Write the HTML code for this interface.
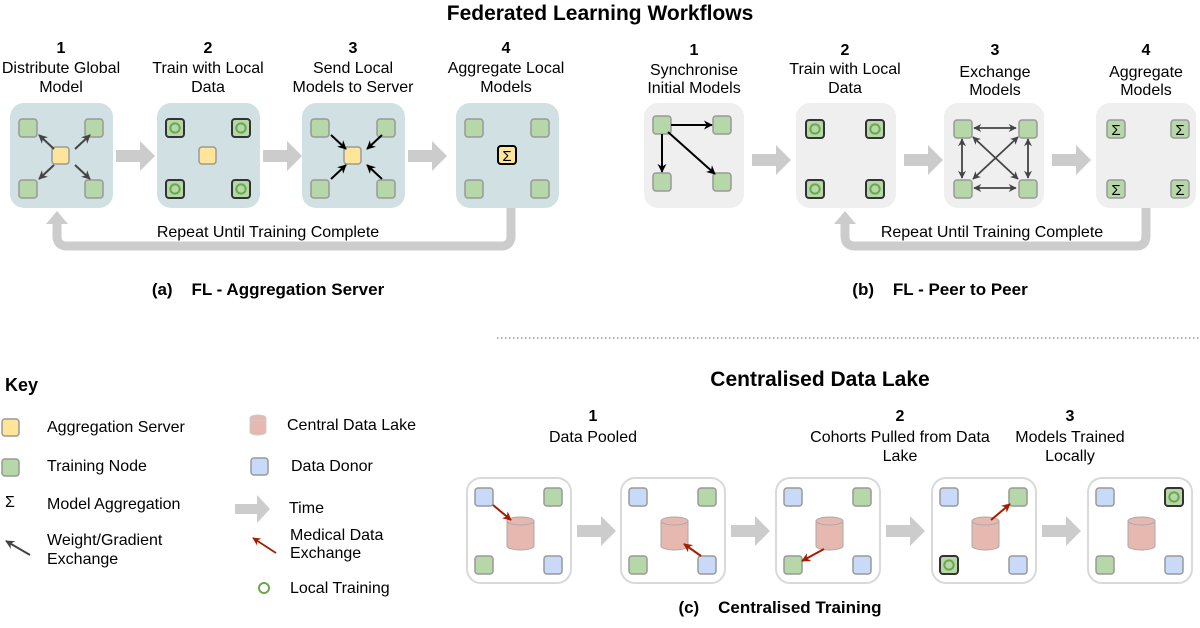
<!DOCTYPE html>
<html><head><meta charset="utf-8"><style>
html,body{margin:0;padding:0;background:#fff;width:1200px;height:628px;overflow:hidden}
svg{display:block;font-family:"Liberation Sans",Arial,sans-serif}
</style></head><body>
<svg id="s" width="1200" height="628" viewBox="0 0 1200 628" xmlns="http://www.w3.org/2000/svg">
<defs>
<marker id="ah" viewBox="0 0 10 10" refX="9" refY="5" markerWidth="4.5" markerHeight="4.5" orient="auto-start-reverse"><path d="M0,0 L10,5 L0,10 L3,5z" fill="#444"/></marker>
<marker id="ak" viewBox="0 0 10 10" refX="9" refY="5" markerWidth="4.5" markerHeight="4.5" orient="auto-start-reverse"><path d="M0,0 L10,5 L0,10 L3,5z" fill="#000"/></marker>
<marker id="ar" viewBox="0 0 10 10" refX="9" refY="5" markerWidth="4.5" markerHeight="4.5" orient="auto"><path d="M0,0 L10,5 L0,10 L3,5z" fill="#a61c00"/></marker>
</defs>
<g id="g"></g>
<g fill="#000" text-anchor="middle" font-size="16">
<text x="600" y="20" font-size="21" font-weight="bold">Federated Learning Workflows</text>
<g font-weight="bold"><text x="61" y="53">1</text><text x="208" y="53">2</text><text x="353" y="53">3</text><text x="506" y="53">4</text>
<text x="694" y="55">1</text><text x="845" y="55">2</text><text x="995" y="55">3</text><text x="1146" y="55">4</text></g>
<text x="61" y="73">Distribute Global</text><text x="61" y="92">Model</text>
<text x="208" y="73">Train with Local</text><text x="208" y="92">Data</text>
<text x="353" y="73">Send Local</text><text x="353" y="92">Models to Server</text>
<text x="506" y="73">Aggregate Local</text><text x="506" y="92">Models</text>
<text x="694" y="75">Synchronise</text><text x="694" y="93">Initial Models</text>
<text x="845" y="74">Train with Local</text><text x="845" y="93">Data</text>
<text x="995" y="77">Exchange</text><text x="995" y="95">Models</text>
<text x="1146" y="77">Aggregate</text><text x="1146" y="95">Models</text>
<text x="268" y="237">Repeat Until Training Complete</text>
<text x="992" y="237">Repeat Until Training Complete</text>
<text x="268" y="295" font-size="17" font-weight="bold">(a)&#160;&#160;&#160;&#160;FL - Aggregation Server</text>
<text x="940" y="295" font-size="17" font-weight="bold">(b)&#160;&#160;&#160;&#160;FL - Peer to Peer</text>
<text x="820" y="386" font-size="21" font-weight="bold">Centralised Data Lake</text>
<g font-weight="bold"><text x="593" y="421">1</text><text x="900" y="421">2</text><text x="1070" y="421">3</text></g>
<text x="593" y="442">Data Pooled</text>
<text x="900" y="442">Cohorts Pulled from Data</text><text x="900" y="461">Lake</text>
<text x="1070" y="442">Models Trained</text><text x="1070" y="461">Locally</text>
<text x="780" y="613" font-size="17" font-weight="bold">(c)&#160;&#160;&#160;&#160;Centralised Training</text>
</g>
<g font-size="16" fill="#000">
<text x="5" y="391" font-size="18" font-weight="bold">Key</text>
<text x="47" y="432">Aggregation Server</text>
<text x="47" y="471">Training Node</text>
<text x="5" y="507">Σ</text>
<text x="47" y="509">Model Aggregation</text>
<text x="47" y="545">Weight/Gradient</text><text x="47" y="564">Exchange</text>
<text x="287" y="430">Central Data Lake</text>
<text x="291" y="471">Data Donor</text>
<text x="289" y="513">Time</text>
<text x="290" y="540">Medical Data</text><text x="290" y="558">Exchange</text>
<text x="290" y="593">Local Training</text>
</g>
<line x1="497" y1="338" x2="1200" y2="338" stroke="#666" stroke-dasharray="1.5,2.5"/>
</svg>
<script>
const g=document.getElementById('g');let h='';
const C={g:'#b6d7a8',y:'#ffe599',b:'#c9daf8'};
function n(x,y,c,ring,s){s=s||18;h+=`<rect x="${x}" y="${y}" width="${s}" height="${s}" rx="3" fill="${C[c]}" stroke="${ring?'#333':'#999'}" stroke-width="${ring?2:1.5}"/>`;
 if(ring)h+=`<circle cx="${x+s/2}" cy="${y+s/2}" r="${s*0.26}" fill="none" stroke="#6aa84f" stroke-width="2"/>`;}
function sig(x,y){h+=`<text x="${x+9}" y="${y+15}" font-size="15" text-anchor="middle" font-family="Liberation Sans,sans-serif">Σ</text>`;}
function ga(x,y){h+=`<path d="M${x},${y-6} h24 v-9 l15,15 l-15,15 v-9 h-24z" fill="#cccccc"/>`;}
function ln(x1,y1,x2,y2,m,c,w,both){h+=`<line x1="${x1}" y1="${y1}" x2="${x2}" y2="${y2}" stroke="${c}" stroke-width="${w||2}" marker-end="url(#${m})" ${both?`marker-start="url(#${m})"`:''}/>`;}
function cyl(x,y,w,ht){h+=`<path d="M${x},${y+4} v${ht-8} a${w/2},4 0 0 0 ${w},0 v-${ht-8}" fill="#e6b8af" stroke="#aaa"/><ellipse cx="${x+w/2}" cy="${y+4}" rx="${w/2}" ry="4" fill="#e6b8af" stroke="#aaa"/>`;}
const A=[10,157,302,456];
A.forEach(x=>{h+=`<rect x="${x}" y="103" width="103" height="105" rx="14" fill="#d0e0e3"/>`;});
A.slice(0,3).forEach(x=>ga(x+106,156));
let x=10;[[9,16],[75,16],[9,77],[75,77]].forEach(p=>n(x+p[0],103+p[1],'g'));
n(x+42,103+44,'y',0,17);
ln(x+44,149,x+29,135,'ah','#444');ln(x+65,149,x+80,135,'ah','#444');ln(x+44,165,x+29,179,'ah','#444');ln(x+65,165,x+80,179,'ah','#444');
x=157;[[9,16],[75,16],[9,77],[75,77]].forEach(p=>n(x+p[0],103+p[1],'g',1));n(x+42,103+44,'y',0,17);
x=302;[[9,16],[75,16],[9,77],[75,77]].forEach(p=>n(x+p[0],103+p[1],'g'));n(x+42,103+44,'y',0,17);
ln(x+29,135,x+44,149,'ak','#000');ln(x+80,135,x+65,149,'ak','#000');ln(x+29,179,x+44,165,'ak','#000');ln(x+80,179,x+65,165,'ak','#000');
x=456;[[9,16],[75,16],[9,77],[75,77]].forEach(p=>n(x+p[0],103+p[1],'g'));
h+=`<rect x="${x+42}" y="146" width="18" height="18" rx="3" fill="#ffe599" stroke="#000" stroke-width="2"/>`;sig(x+42,146);
h+=`<path d="M511,208 V236 q0,10 -10,10 H67 q-10,0 -10,-10 V222" fill="none" stroke="#cccccc" stroke-width="9"/><path d="M46,224 l11,-13 l11,13z" fill="#ccc"/>`;
const B=[644,796,944,1096];
B.forEach(x=>{h+=`<rect x="${x}" y="103" width="100" height="105" rx="14" fill="#efefef"/>`;});
B.slice(0,3).forEach(x=>ga(x+108,160));
n(653,116,'g');n(713,116,'g');n(653,173,'g');n(713,173,'g');
ln(671,125,712,125,'ak','#000');ln(662,134,662,172,'ak','#000');ln(668,132,715,174,'ak','#000');
x=944;[[10,17],[75,17],[10,77],[75,77]].forEach(p=>n(x+p[0],103+p[1],'g'));
ln(974,128,1016,128,'ah','#444',1.8,1);ln(974,188,1016,188,'ah','#444',1.8,1);
ln(962,139,962,178,'ah','#444',1.8,1);ln(1028,139,1028,178,'ah','#444',1.8,1);
ln(973,137,1018,179,'ah','#444',1.8,1);ln(1018,137,973,179,'ah','#444',1.8,1);
x=796;[[10,17],[70,17],[10,77],[70,77]].forEach(p=>n(x+p[0],103+p[1],'g',1));
x=1096;[[11,17],[75,17],[11,77],[75,77]].forEach(p=>{n(x+p[0],103+p[1],'g');sig(x+p[0],103+p[1]);});
h+=`<path d="M1146,208 V236 q0,10 -10,10 H855 q-10,0 -10,-10 V222" fill="none" stroke="#cccccc" stroke-width="9"/><path d="M834,224 l11,-13 l11,13z" fill="#ccc"/>`;
const Cx=[467,621,776,932,1088];
Cx.forEach(x=>{h+=`<rect x="${x}" y="478" width="104" height="105" rx="14" fill="#fff" stroke="#d9d9d9" stroke-width="2"/>`;cyl(x+40,517,27,33);});
Cx.slice(0,4).forEach(x=>ga(x+110,531));
Cx.forEach((x,i)=>{const P=[[8,10],[77,10],[8,78],[77,78]];const L=['b','g','g','b'];P.forEach((p,j)=>{let ring=(i==3&&j==2)||(i==4&&j==1);n(x+p[0],478+p[1],L[j],ring,18);});});
ln(Cx[0]+26,505,Cx[0]+44,520,'ar','#a61c00',2);
ln(Cx[1]+80,556,Cx[1]+63,544,'ar','#a61c00',2);
ln(Cx[2]+48,549,Cx[2]+26,561,'ar','#a61c00',2);
ln(Cx[3]+59,520,Cx[3]+78,504,'ar','#a61c00',2);
n(2,419,'y',0,17);n(2,459,'g',0,17);ln(30,555,6,541,'ah','#444');
h+=`<path d="M250,418 v14 a8,3 0 0 0 16,0 v-14" fill="#e6b8af" stroke="#ccc"/><ellipse cx="258" cy="418" rx="8" ry="3" fill="#e6b8af" stroke="#ccc"/>`;
n(251,458,'b',0,17);
h+=`<path d="M235,504 h22 v-9 l13,14 l-13,14 v-9 h-22z" fill="#cccccc"/>`;
ln(276,553,253,538,'ar','#a61c00',1.8);
h+=`<circle cx="264" cy="588" r="5" fill="none" stroke="#6aa84f" stroke-width="2"/>`;
g.innerHTML=h;
</script>
</body></html>
